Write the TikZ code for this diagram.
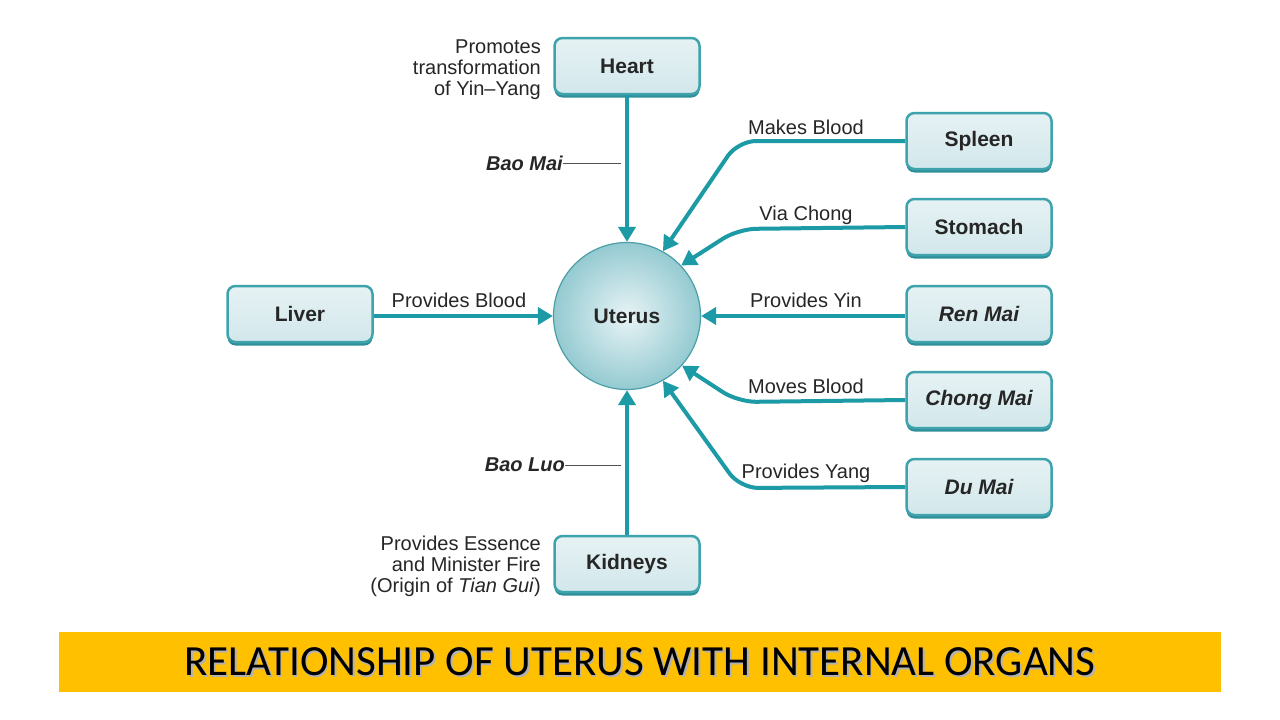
\documentclass[tikz,border=0pt]{standalone}
\usepackage{fontspec}
\setmainfont{Liberation Sans}
\newfontfamily\titlefont{Carlito}
\usetikzlibrary{arrows.meta,shadows}
\definecolor{arrcol}{HTML}{1C9AA5}
\definecolor{boxedge}{HTML}{3FA3AD}
\definecolor{boxtop}{HTML}{E6F2F4}
\definecolor{boxbot}{HTML}{D2E7EB}
\definecolor{boxshadow}{HTML}{2F8F99}
\definecolor{utin}{HTML}{E8F4F6}
\definecolor{utout}{HTML}{94CAD1}
\definecolor{utedge}{HTML}{4C9FA7}
\definecolor{txt}{HTML}{262626}
\definecolor{barcol}{HTML}{FFC000}
\begin{document}
\begin{tikzpicture}[x=1pt,y=-1pt,
  organ/.style={draw=boxedge, line width=2.5pt, rounded corners=8pt,
    top color=boxtop, bottom color=boxbot,
    minimum width=145pt, minimum height=56pt,
    font=\fontsize{21}{24}\selectfont\bfseries, text=txt,
    drop shadow={shadow xshift=0pt, shadow yshift=-3.5pt, fill=boxshadow, opacity=1}},
  organit/.style={organ, font=\fontsize{21}{24}\selectfont\bfseries\itshape},
  lab/.style={font=\fontsize{20}{21}\selectfont, text=txt, inner sep=0pt},
  labbi/.style={lab, font=\fontsize{20}{21}\selectfont\bfseries\itshape},
  arr/.style={draw=arrcol, line width=4pt, rounded corners=18pt,
    -{Triangle[length=15pt,width=17pt]}},
  tick/.style={draw=txt!80, line width=0.8pt}
]
\useasboundingbox (0,0) rectangle (1280,720);
\fill[white] (0,0) rectangle (1280,720);

% Uterus
\node[circle, minimum size=147pt, inner color=utin, outer color=utout,
  draw=utedge, line width=1.2pt, text=txt,
  font=\fontsize{21}{24}\selectfont\bfseries] (ut) at (627,316) {Uterus};

% Organs
\node[organ] (heart) at (627,66) {Heart};
\node[organ] (kid) at (627,564) {Kidneys};
\node[organ] (liver) at (300,314) {Liver};
\node[organ] (spleen) at (979,141) {Spleen};
\node[organ] (stomach) at (979,227) {Stomach};
\node[organit] (ren) at (979,314) {Ren Mai};
\node[organit] (chong) at (979,400) {Chong Mai};
\node[organit] (du) at (979,487) {Du Mai};

% Corners
\coordinate (cs) at (738,141);
\coordinate (cst) at (738,229);
\coordinate (cch) at (738,402);
\coordinate (cdu) at (740,488);

% Arrows
\draw[arr] (heart.south) -- (ut.north);
\draw[arr] (kid.north) -- (ut.south);
\draw[arr] (liver.east |- ut.west) -- (ut.west);
\draw[arr] (ren.west |- ut.east) -- (ut.east);
\draw[arr] (spleen.west) -- (cs) -- (ut.61);
\draw[arr] (stomach.west) -- (cst) -- (ut.43);
\draw[arr] (chong.west) -- (cch) -- (ut.-42);
\draw[arr] (du.west) -- (cdu) -- (ut.-61);

% Labels
\node[lab] (l1) at (806,127) {Makes Blood};
\node[lab] (l2) at (806,215) {Via Chong};
\node[lab] (l3) at (806,300) {Provides Yin};
\node[lab] (l4) at (806,386) {Moves Blood};
\node[lab] (l5) at (806,473) {Provides Yang};
\node[lab] (l6) at (459,300) {Provides Blood};

\node[lab, align=right, anchor=east] (prom) at (541,70)
  {Promotes\\transformation\\of Yin–Yang};
\node[lab, align=right, anchor=east] (ess) at (541,566)
  {Provides Essence\\and Minister Fire\\(Origin of \textit{Tian Gui})};

\node[labbi, anchor=east] (baomai) at (563,163) {Bao Mai};
\coordinate (bmend) at (621,163);
\draw[tick] (baomai.east) -- (bmend);
\node[labbi, anchor=east] (baoluo) at (565,465) {Bao Luo};
\coordinate (blend) at (621,465);
\draw[tick] (baoluo.east) -- (blend);

% Title bar
\node[fill=barcol, minimum width=1162pt, minimum height=60pt, inner sep=0pt] (bar) at (640,662) {};
\node[text=black!30, font=\titlefont\fontsize{43}{46}\selectfont] (tsh) at (641.5,663.5)
  {RELATIONSHIP OF UTERUS WITH INTERNAL ORGANS};
\node[text=black, font=\titlefont\fontsize{43}{46}\selectfont] (title) at (bar)
  {RELATIONSHIP OF UTERUS WITH INTERNAL ORGANS};
\end{tikzpicture}
\end{document}
